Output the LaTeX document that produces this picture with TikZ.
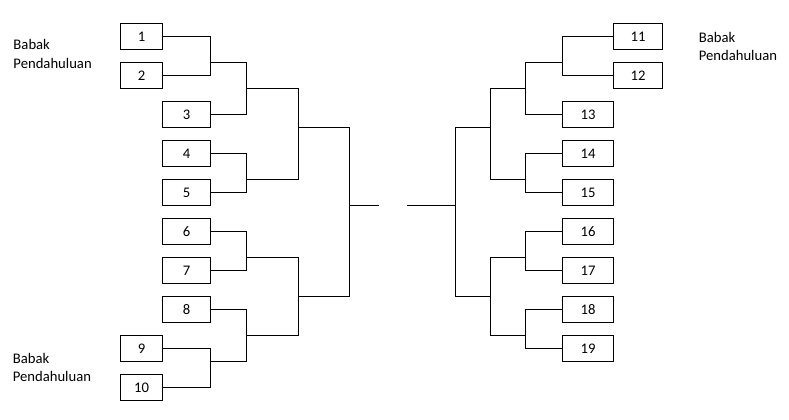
\documentclass[tikz,border=0pt]{standalone}
\usepackage{fontspec}
\setmainfont{Carlito}
\begin{document}
\begin{tikzpicture}[x=0.75pt,y=-0.75pt,
  line width=0.75pt,
  box/.style={draw,inner sep=0pt,minimum height=19.5pt,font=\fontsize{11}{13}\selectfont},
  smallL/.style={box,minimum width=31.5pt},
  bigL/.style={box,minimum width=36pt},
  smallR/.style={box,minimum width=36.75pt},
  bigR/.style={box,minimum width=38.25pt},
  lbl/.style={align=left,anchor=west,inner sep=0pt,font=\fontsize{11}{13.7}\selectfont}]
\useasboundingbox (0,0) rectangle (789,420);
% left boxes
\node[smallL] (b1) at (141.5,36.5) {1};
\node[smallL] (b2) at (141.5,75.5) {2};
\node[bigL] (b3) at (186.5,114.5) {3};
\node[bigL] (b4) at (186.5,153.5) {4};
\node[bigL] (b5) at (186.5,192.5) {5};
\node[bigL] (b6) at (186.5,231.5) {6};
\node[bigL] (b7) at (186.5,270.5) {7};
\node[bigL] (b8) at (186.5,309.5) {8};
\node[smallL] (b9) at (141.5,348.5) {9};
\node[smallL] (b10) at (141.5,387.5) {10};
% right boxes
\node[smallR] (b11) at (638,36.5) {11};
\node[smallR] (b12) at (638,75.5) {12};
\node[bigR] (b13) at (588,114.5) {13};
\node[bigR] (b14) at (588,153.5) {14};
\node[bigR] (b15) at (588,192.5) {15};
\node[bigR] (b16) at (588,231.5) {16};
\node[bigR] (b17) at (588,270.5) {17};
\node[bigR] (b18) at (588,309.5) {18};
\node[bigR] (b19) at (588,348.5) {19};
% labels
\node[lbl] (t1) at (13,54) {Babak\\Pendahuluan};
\node[lbl] (t2) at (12.3,367.5) {Babak\\Pendahuluan};
\node[lbl] (t3) at (698.3,46.3) {Babak\\Pendahuluan};
% left junctions
\coordinate (m12) at (210.5,62.5);
\coordinate (m123) at (246.5,88.5);
\coordinate (m45) at (246.5,179.5);
\coordinate (mA) at (298.5,127.5);
\coordinate (m67) at (246.5,257.5);
\coordinate (m910) at (210.5,361.5);
\coordinate (m8910) at (246.5,335.5);
\coordinate (mB) at (298.5,296.5);
\coordinate (mL) at (349.5,205.5);
\coordinate (endL) at (379,205.5);
\draw (b1.east) -| (m12) |- (b2.east);
\draw (m12) -| (m123) |- (b3.east);
\draw (b4.east) -| (m45) |- (b5.east);
\draw (m123) -| (mA) |- (m45);
\draw (b6.east) -| (m67) |- (b7.east);
\draw (b9.east) -| (m910) |- (b10.east);
\draw (b8.east) -| (m8910) |- (m910);
\draw (m67) -| (mB) |- (m8910);
\draw (mA) -| (mL) |- (mB);
\draw (mL) -- (endL);
% right junctions
\coordinate (r1112) at (562.5,62.5);
\coordinate (r13) at (525.5,88.5);
\coordinate (r1415) at (525.5,179.5);
\coordinate (rA) at (490.5,127.5);
\coordinate (r1617) at (525.5,257.5);
\coordinate (r1819) at (525.5,335.5);
\coordinate (rB) at (490.5,296.5);
\coordinate (rR) at (455.5,205.5);
\coordinate (endR) at (406.5,205.5);
\draw (b11.west) -| (r1112) |- (b12.west);
\draw (r1112) -| (r13) |- (b13.west);
\draw (b14.west) -| (r1415) |- (b15.west);
\draw (r13) -| (rA) |- (r1415);
\draw (b16.west) -| (r1617) |- (b17.west);
\draw (b18.west) -| (r1819) |- (b19.west);
\draw (r1617) -| (rB) |- (r1819);
\draw (rA) -| (rR) |- (rB);
\draw (rR) -- (endR);
\end{tikzpicture}
\end{document}
